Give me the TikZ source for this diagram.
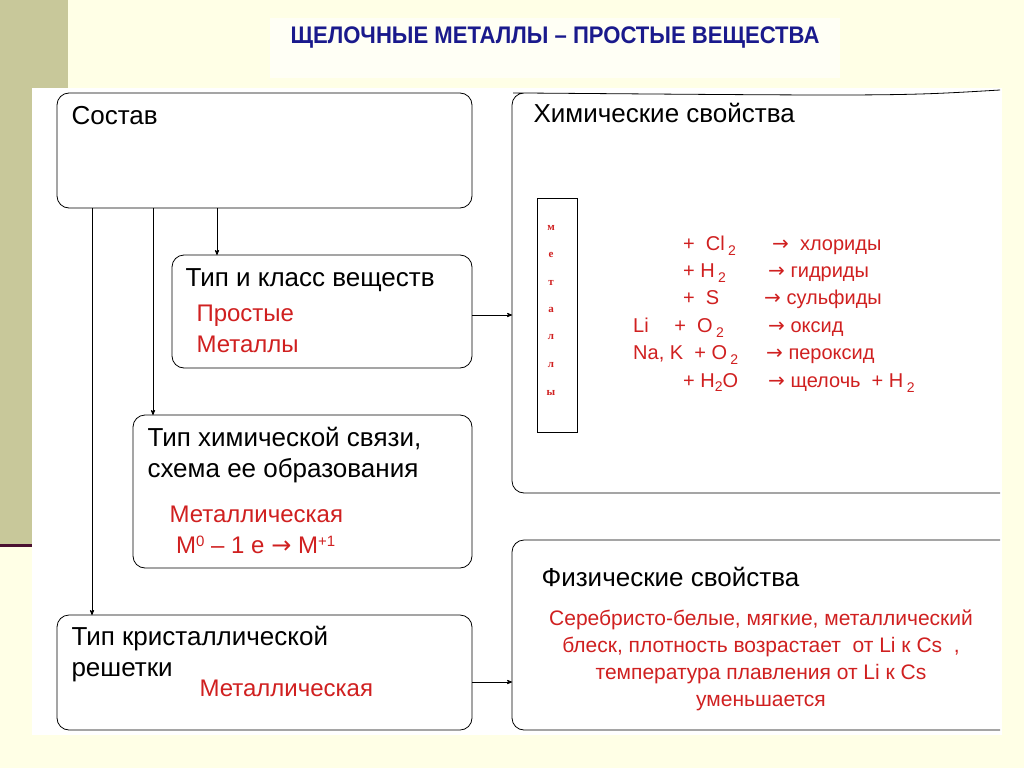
\documentclass[tikz,border=0pt]{standalone}
\usepackage{fontspec}
\setmainfont{Liberation Sans}
\newfontfamily\serifletters{Liberation Serif}
\newfontfamily\arrowfont{DejaVu Sans}
\usetikzlibrary{arrows}

\definecolor{paper}{HTML}{FFFFE6}
\definecolor{olive}{HTML}{C8C89A}
\definecolor{navy}{HTML}{1A1A8C}
\definecolor{redtext}{HTML}{D02020}
\definecolor{darkline}{HTML}{4A1030}

\newcommand{\lowtwo}{\raisebox{-5pt}{\fontsize{14}{14}\selectfont 2}}
\newcommand{\arr}{{\arrowfont →}}

\tikzset{
  block/.style={draw, thick, rounded corners=12pt},
  heading/.style={anchor=north west, align=left, font=\fontsize{26}{31}\selectfont},
  redlines/.style={anchor=north west, align=left, text=redtext, font=\fontsize{24}{31}\selectfont},
  eq/.style={anchor=base west, text=redtext, inner sep=0pt, font=\fontsize{20}{24}\selectfont},
  link/.style={->, >=stealth', thick}
}

\begin{document}
\begin{tikzpicture}[x=1pt, y=-1pt]
\useasboundingbox (0,0) rectangle (1024,768);
\fill[paper] (0,0) rectangle (1024,768);
\fill[olive] (0,0) rectangle (68,545);
\draw[darkline, line width=3pt] (0,545) -- (68,545);
\fill[white!60!paper] (270,18) rectangle (840,78);
\node[font=\bfseries\fontsize{24}{28}\selectfont, text=navy, xscale=0.92] (title) at (555,38) {ЩЕЛОЧНЫЕ МЕТАЛЛЫ -- ПРОСТЫЕ ВЕЩЕСТВА};
\fill[white] (32,88) rectangle (1002,735);

% left column
\draw[block] (57,93) rectangle (472,208);
\node[heading] (sostav) at (68,103) {Состав};

\draw[block] (172,255) rectangle (472,368);
\node[heading] (tip) at (182,265) {Тип и класс веществ};
\node[redlines] (prostye) at (193,301) {Простые\\Металлы};

\draw[block] (133,415) rectangle (472,568);
\node[heading] (svyaz) at (144,424) {Тип химической связи,\\схема ее образования};
\node[redlines] (metsv) at (166,502) {Металлическая\\\ M\raisebox{7pt}{\fontsize{15}{15}\selectfont 0} -- 1 е \arr\ M\raisebox{7pt}{\fontsize{15}{15}\selectfont +1}};

\draw[block] (57,615) rectangle (472,730);
\node[heading] (reshetka) at (68,623) {Тип кристаллической\\решетки};
\node[redlines] (metresh) at (196,676) {Металлическая};

% arrows from the top box
\coordinate (s1) at (217,208); \coordinate (t1) at (217,255);
\coordinate (s2) at (153,208); \coordinate (t2) at (153,415);
\coordinate (s3) at (92,208);  \coordinate (t3) at (92,615);
\draw[link] (s1) -- (t1);
\draw[link] (s2) -- (t2);
\draw[link] (s3) -- (t3);

% right column
\draw[thick, rounded corners=12pt] (1000,90) .. controls (900,96) .. (525,93) -- (512,93) -- (512,493) -- (1000,493);
\node[heading] (chem) at (530,100) {Химические свойства};
\draw[thick] (537,198) rectangle (577,432);
\foreach \ch [count=\i] in {м,е,т,а,л,л,ы}
  \node[text=redtext, font=\serifletters\bfseries\fontsize{11}{11}\selectfont] (m\i) at (551,200+27.5*\i) {\ch};

\node[eq] (r1a) at (683,250) {+\ \ Cl\,\lowtwo};
\node[eq] (r1b) at (772,250) {\arr\ \ хлориды};
\node[eq] (r2a) at (683,277) {+ H\,\lowtwo};
\node[eq] (r2b) at (768,277) {\arr\ гидриды};
\node[eq] (r3a) at (683,304) {+\ \ S};
\node[eq] (r3b) at (764,304) {\arr\ сульфиды};
\node[eq] (r4a) at (633,332) {Li\quad\ +\ \ O\,\lowtwo};
\node[eq] (r4b) at (768,332) {\arr\ оксид};
\node[eq] (r5a) at (633,359) {Na, K\ \ + O\,\lowtwo};
\node[eq] (r5b) at (766,359) {\arr\ пероксид};
\node[eq] (r6a) at (683,387) {+ H\raisebox{-4pt}{\fontsize{14}{14}\selectfont 2}O};
\node[eq] (r6b) at (768,387) {\arr\ щелочь\ \ + H\,\lowtwo};

\draw[thick, rounded corners=12pt] (1000,540) -- (512,540) -- (512,730) -- (1000,730);
\node[heading] (phys) at (538,564) {Физические свойства};
\node[anchor=north, text=redtext, align=center, font=\fontsize{21}{27}\selectfont] (physt) at (761,606) {Серебристо-белые, мягкие, металлический\\блеск, плотность возрастает\ \ от Li к Cs\ \ ,\\температура плавления от Li к Cs\\уменьшается};

% arrows to the right column
\coordinate (a1) at (472,315); \coordinate (b1) at (512,315);
\coordinate (a2) at (472,682); \coordinate (b2) at (512,682);
\draw[link] (a1) -- (b1);
\draw[link] (a2) -- (b2);
\end{tikzpicture}
\end{document}
